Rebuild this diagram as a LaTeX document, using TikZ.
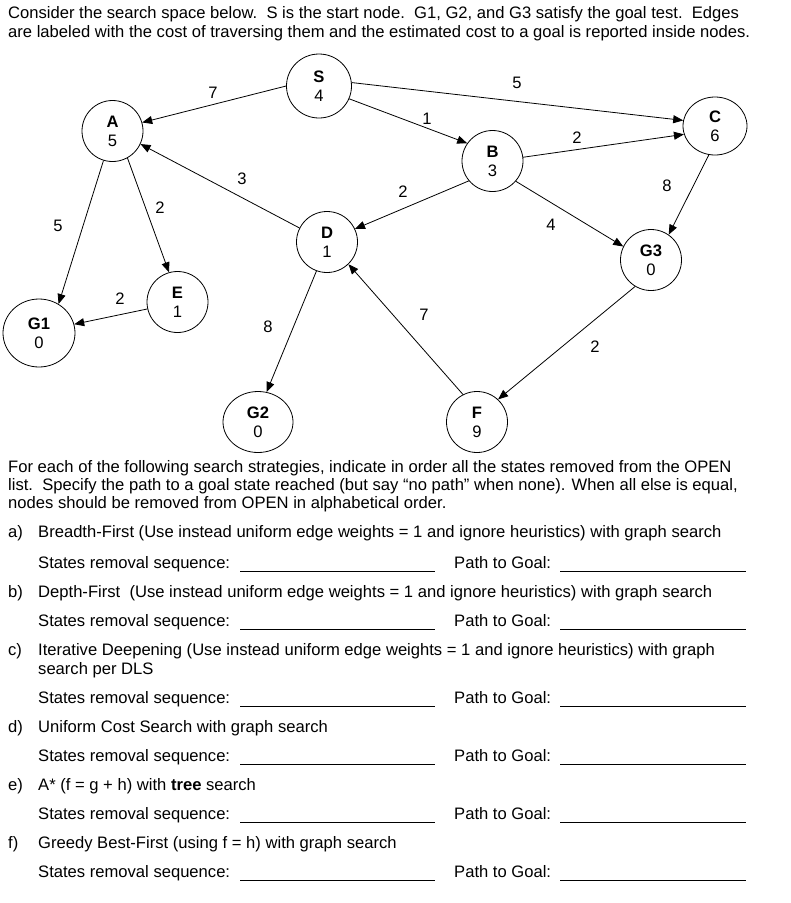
\documentclass[tikz,border=0pt]{standalone}
\usepackage{fontspec}
\setmainfont{Liberation Sans}
\usetikzlibrary{arrows.meta,shapes.geometric}

\tikzset{
  state/.style={draw,ellipse,line width=0.8pt,minimum width=61pt,minimum height=61pt,inner sep=0pt,align=center,font=\fontsize{16.6}{19}\selectfont},
  edge/.style={-{Triangle[length=10pt,width=8pt]},line width=0.8pt},
  cost/.style={inner sep=0pt,font=\fontsize{16.6}{18}\selectfont},
  txt/.style={anchor=base west,inner sep=0pt,font=\fontsize{16.6}{18}\selectfont},
  blank/.style={line width=0.8pt}
}

\begin{document}
\begin{tikzpicture}[x=1pt,y=-1pt]
  \useasboundingbox (0,0) rectangle (791,903);
  % intro text
  \node[txt] (intro1) at (8,18) {Consider the search space below.\ \ S is the start node.\ \ G1, G2, and G3 satisfy the goal test.\ \ Edges};
  \node[txt] (intro2) at (8,37) {are labeled with the cost of traversing them and the estimated cost to a goal is reported inside nodes.};

  % states
  \node[state,minimum width=65pt,minimum height=64pt] (S) at (319,86) {\textbf{S}\\4};
  \node[state] (A) at (112.5,131) {\textbf{A}\\5};
  \node[state] (B) at (492.5,161) {\textbf{B}\\3};
  \node[state,minimum width=64pt,minimum height=58pt] (C) at (715,126) {\textbf{C}\\6};
  \node[state] (D) at (327,242) {\textbf{D}\\1};
  \node[state] (E) at (177.5,302) {\textbf{E}\\1};
  \node[state] (F) at (477,422) {\textbf{F}\\9};
  \node[state,minimum width=72pt,minimum height=68pt] (G1) at (39,333) {\textbf{G1}\\0};
  \node[state,minimum width=70pt,minimum height=61pt] (G2) at (258,422) {\textbf{G2}\\0};
  \node[state] (G3) at (651,260) {\textbf{G3}\\0};

  % edges
  \draw[edge] (S.180) -- (A.16);
  \draw[edge] (S.6) -- (C.170);
  \draw[edge] (S.-23) -- (B.145);
  \draw[edge] (A.-107) -- (G1.56);
  \draw[edge] (A.-61) -- (E.106);
  \draw[edge] (D.153) -- (A.-25);
  \draw[edge] (B.220) -- (D.25);
  \draw[edge] (B.7) -- (C.195);
  \draw[edge] (B.-41) -- (G3.154);
  \draw[edge] (C.-102) -- (G3.55);
  \draw[edge] (E.193) -- (G1.14);
  \draw[edge] (D.-110) -- (G2.74);
  \draw[edge] (F.117) -- (D.-46);
  \draw[edge] (G3.239) -- (F.47);

  % costs
  \node[cost] (cSA) at (213,93) {7};
  \node[cost] (cSC) at (517,83) {5};
  \node[cost] (cSB) at (427,119) {1};
  \node[cost] (cAG1) at (58,226) {5};
  \node[cost] (cAE) at (160,208) {2};
  \node[cost] (cDA) at (242,179) {3};
  \node[cost] (cBD) at (403,192) {2};
  \node[cost] (cBC) at (577,138) {2};
  \node[cost] (cBG3) at (551,225) {4};
  \node[cost] (cCG3) at (667,186) {8};
  \node[cost] (cEG1) at (120,299) {2};
  \node[cost] (cDG2) at (268,327) {8};
  \node[cost] (cFD) at (424,315) {7};
  \node[cost] (cG3F) at (595,347) {2};

  % questions
  \node[txt] (para1) at (8,472) {For each of the following search strategies, indicate in order all the states removed from the OPEN};
  \node[txt] (para2) at (8,490) {list.\ \ Specify the path to a goal state reached (but say “no path” when none). When all else is equal,};
  \node[txt] (para3) at (8,508) {nodes should be removed from OPEN in alphabetical order.};

  \node[txt] (qa) at (8,537) {a)};
  \node[txt] (qa1) at (38,537) {Breadth-First (Use instead uniform edge weights = 1 and ignore heuristics) with graph search};
  \node[txt] (qb) at (8,597) {b)};
  \node[txt] (qb1) at (38,597) {Depth-First\ \ (Use instead uniform edge weights = 1 and ignore heuristics) with graph search};
  \node[txt] (qc) at (8,655) {c)};
  \node[txt] (qc1) at (38,655) {Iterative Deepening (Use instead uniform edge weights = 1 and ignore heuristics) with graph};
  \node[txt] (qc2) at (38,674) {search per DLS};
  \node[txt] (qd) at (8,732) {d)};
  \node[txt] (qd1) at (38,732) {Uniform Cost Search with graph search};
  \node[txt] (qe) at (8,790) {e)};
  \node[txt] (qe1) at (38,790) {A* (f = g + h) with \textbf{tree} search};
  \node[txt] (qf) at (8,848) {f)};
  \node[txt] (qf1) at (38,848) {Greedy Best-First (using f = h) with graph search};

  % answer rows
  \foreach \y in {568,626,703,761,819,877} {
    \node[txt] at (38,\y) {States removal sequence:};
    \draw[blank] (240,\y+3) -- (435,\y+3);
    \node[txt] at (454,\y) {Path to Goal:};
    \draw[blank] (560,\y+3) -- (746,\y+3);
  }
\end{tikzpicture}
\end{document}
